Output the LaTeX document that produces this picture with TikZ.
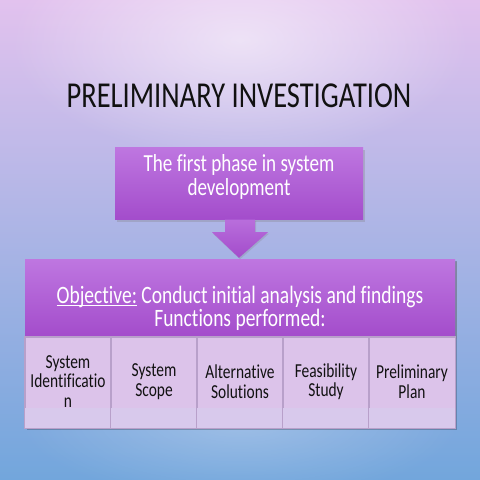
\documentclass[tikz,border=0pt]{standalone}
\usepackage{fontspec}
\setmainfont[FakeStretch=0.78, Ligatures=NoCommon]{Carlito}
\usetikzlibrary{calc,shadows,fadings}
\tikzfading[name=glowfade, inner color=transparent!0, outer color=transparent!100]
\newsavebox\myulbox
\newcommand\thinul[1]{\sbox\myulbox{#1}\rlap{\rule[-2.6pt]{\wd\myulbox}{1pt}}\usebox\myulbox}
\definecolor{bgtop}{HTML}{E2C2EE}
\definecolor{bgmid}{HTML}{DCD8F2}
\definecolor{bgbot}{HTML}{72A6DC}
\definecolor{pbtop}{HTML}{BE76E0}
\definecolor{pbbot}{HTML}{A34CCB}
\definecolor{cellc}{HTML}{DCC3EA}
\definecolor{stripc}{HTML}{D8C9EC}
\definecolor{cellline}{HTML}{B8A0CA}
\definecolor{titlec}{HTML}{111111}
\tikzset{
  titletext/.style={text=titlec, font=\fontsize{36.5}{40}\selectfont, inner sep=0pt},
  purplebox/.style={top color=pbtop, bottom color=pbbot, draw=none, inner sep=0pt,
     drop shadow={opacity=0.3, shadow xshift=1.5pt, shadow yshift=-2pt}},
  boxtext/.style={text=white, align=center, inner sep=0pt},
  arrowfill/.style={top color=pbtop!80!pbbot, bottom color=pbbot, draw=none},
  cellbox/.style={fill=cellc, draw=cellline, line width=0.8pt, minimum width=86pt,
     minimum height=91pt, inner sep=0pt},
  celltext/.style={align=center, text=titlec, inner sep=0pt,
     font=\fontsize{19.8}{19.5}\selectfont},
  stripbox/.style={fill=stripc, draw=none},
  bigshadow/.style={fill=black, opacity=0.22}
}
\begin{document}
\begin{tikzpicture}[x=1pt,y=1pt]
\useasboundingbox (0,0) rectangle (480,480);
% background
\shade[top color=bgtop, middle color=bgmid, bottom color=bgbot] (0,0) rectangle (480,480);
\fill[white, opacity=0.55, path fading=glowfade] (240,440) ellipse (230 and 120);
\fill[white, opacity=0.25, path fading=glowfade] (240,60) ellipse (220 and 80);

% title
\node[titletext] (title) at (239,384) {PRELIMINARY INVESTIGATION};

% top box
\node[purplebox, minimum width=248pt, minimum height=72pt] (phase) at (239,296) {};
\node[boxtext, font=\fontsize{24.5}{24}\selectfont] (phaset) at ($(phase)+(0,7)$)
      {The first phase in system\\development};

% big box shadow
\fill[bigshadow] (26.5,50) rectangle (457,218.5);

% objective header
\node[purplebox, drop shadow={opacity=0}, minimum width=430pt, minimum height=77pt] (obj) at (240,181.5) {};
\node[boxtext, font=\fontsize{25}{23.5}\selectfont] (objt) at ($(obj)+(0,-10)$)
      {\thinul{Objective:} Conduct initial analysis and findings\\Functions performed:};

% cells
\node[cellbox] (c1) at (68,97.5) {};
\node[cellbox] (c2) at (154,97.5) {};
\node[cellbox] (c3) at (240,97.5) {};
\node[cellbox] (c4) at (326,97.5) {};
\node[cellbox] (c5) at (412,97.5) {};
\foreach \c in {c1,c2,c3,c4,c5}{
  \fill[stripbox] ($(\c.south west)+(0.4,0.4)$) rectangle ($(\c.south east)+(-0.4,20)$);
  \draw[cellline, line width=0.8pt] (\c.south west) rectangle (\c.north east);
}
\node[celltext] (t1) at ($(c1)+(0,1)$) {System\\Identificatio\\n};
\node[celltext] (t2) at ($(c2)+(0,1)$) {System\\Scope};
\node[celltext] (t3) at ($(c3)+(0,1)$) {Alternative\\Solutions};
\node[celltext] (t4) at ($(c4)+(0,1)$) {Feasibility\\Study};
\node[celltext] (t5) at ($(c5)+(0,1)$) {Preliminary\\Plan};

% arrow from phase to objective
\coordinate (ab) at (phase.south);
\coordinate (tip) at ($(obj.north)+(0,2)$);
\shade[arrowfill, drop shadow={opacity=0.25, shadow xshift=1pt, shadow yshift=-1.5pt}]
  ($(ab)+(-14,0.5)$) -- ($(ab)+(16,0.5)$) -- ($(ab)+(16,-12)$) -- ($(ab)+(29,-12)$)
  -- (tip -| ab) -- ($(ab)+(-27,-12)$) -- ($(ab)+(-14,-12)$) -- cycle;
\end{tikzpicture}
\end{document}
